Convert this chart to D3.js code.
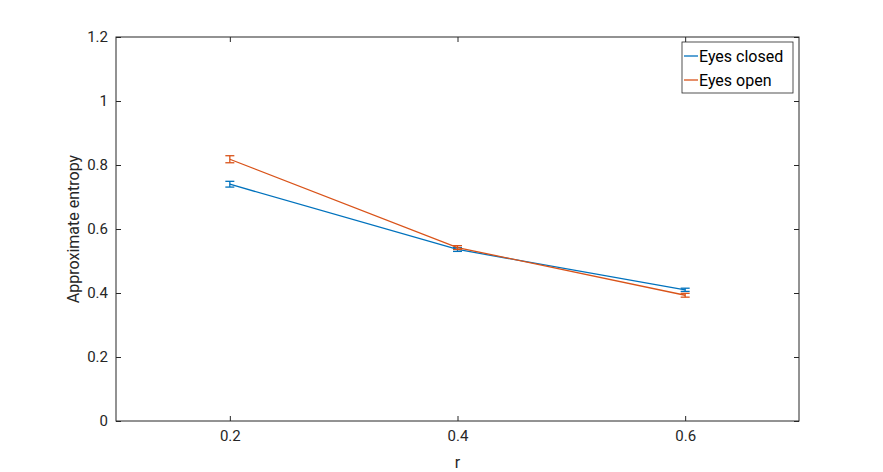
<!DOCTYPE html>
<html><head><meta charset="utf-8">
<script src="https://cdn.jsdelivr.net/npm/d3@7"></script>
<style>body{margin:0;background:#fff}text{font-family:Roboto,"Noto Sans",sans-serif}</style>
</head><body><svg id="c" width="883" height="472"></svg>
<script>
const rValues=[0.2,0.4,0.6];
const closedMean=[0.740,0.536,0.410];
const closedErr=[0.009,0.006,0.005];
const openMean=[0.818,0.542,0.393];
const openErr=[0.011,0.006,0.006];
const yTicks=[0,0.2,0.4,0.6,0.8,1,1.2];
const xTicks=[0.2,0.4,0.6];
const seriesNames=["Eyes closed","Eyes open"];
const colors=["#0072BD","#D95319"];

const svg=d3.select("#c");
const L=116,R=799,T=37,B=421;
const x=d3.scaleLinear().domain([0.1,0.7]).range([L,R]);
const y=d3.scaleLinear().domain([0,1.2]).range([B,T]);
const ax="#262626";
svg.append("rect").attr("x",L).attr("y",T).attr("width",R-L).attr("height",B-T).attr("fill","none").attr("stroke",ax).attr("stroke-width",1);
const xa=svg.append("g").attr("transform",`translate(0,${B})`).call(d3.axisBottom(x).tickValues(xTicks).tickSize(-5).tickPadding(9).tickFormat(d=>d.toFixed(1)));
const xt=svg.append("g").attr("transform",`translate(0,${T})`).call(d3.axisTop(x).tickValues(xTicks).tickSize(-5).tickFormat(""));
const ya=svg.append("g").attr("transform",`translate(${L},0)`).call(d3.axisLeft(y).tickValues(yTicks).tickSize(-5).tickPadding(8).tickFormat(d=>d===0?"0":d===1?"1":d.toFixed(1)));
const yr=svg.append("g").attr("transform",`translate(${R},0)`).call(d3.axisRight(y).tickValues(yTicks).tickSize(-5).tickFormat(""));
[xa,xt,ya,yr].forEach(g=>{g.select(".domain").remove();g.selectAll("line").attr("stroke",ax);g.selectAll("text").attr("fill",ax).attr("font-size",15);});
svg.append("text").attr("x",(L+R)/2).attr("y",468).attr("text-anchor","middle").attr("font-size",16).attr("fill",ax).text("r");
svg.append("text").attr("transform",`translate(79,${(T+B)/2}) rotate(-90)`).attr("text-anchor","middle").attr("font-size",16).attr("fill",ax).text("Approximate entropy");

[[closedMean,closedErr],[openMean,openErr]].forEach(([m,e],i)=>{
  const g=svg.append("g").attr("stroke",colors[i]).attr("fill","none").attr("stroke-width",1.3);
  g.append("path").attr("d",d3.line().x((d,j)=>x(rValues[j])).y(d=>y(d))(m));
  m.forEach((v,j)=>{
    const cx=x(rValues[j]);
    g.append("line").attr("x1",cx).attr("x2",cx).attr("y1",y(v-e[j])).attr("y2",y(v+e[j]));
    [v-e[j],v+e[j]].forEach(w=>g.append("line").attr("x1",cx-4.5).attr("x2",cx+4.5).attr("y1",y(w)).attr("y2",y(w)));
  });
});
const lg=svg.append("g");
lg.append("rect").attr("x",682).attr("y",42).attr("width",111).attr("height",51).attr("fill","#fff").attr("stroke",ax).attr("stroke-width",0.8);
seriesNames.forEach((n,i)=>{
  const yy=56+i*24;
  lg.append("line").attr("x1",684).attr("x2",698).attr("y1",yy).attr("y2",yy).attr("stroke",colors[i]).attr("stroke-width",1.3);
  lg.append("text").attr("x",699).attr("y",yy+5.5).attr("font-size",16).attr("fill","#000").text(n);
});
</script></body></html>
